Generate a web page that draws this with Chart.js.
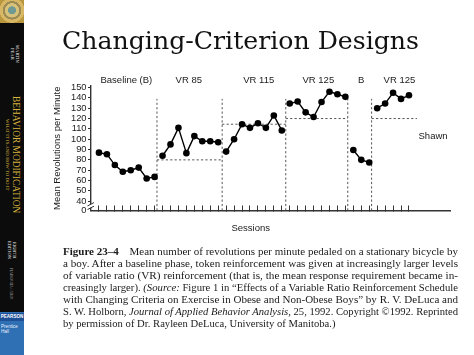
<!DOCTYPE html>
<html><head><meta charset="utf-8">
<script src="https://cdn.jsdelivr.net/npm/chart.js@4/dist/chart.umd.min.js"></script>
<style>
html,body{margin:0;padding:0;background:#fff;width:474px;height:355px;overflow:hidden;position:relative;font-family:"Liberation Sans",Arial,sans-serif}
#c{position:absolute;left:0;top:0}
.spine{position:absolute;left:0;top:0;width:24px;height:355px;background:#0c0c0c;overflow:hidden}
.emb{position:absolute;left:0;top:0;width:24px;height:23px;background:radial-gradient(circle at 50% 45%,#6f9a94 0 22%,#d8c27a 24% 40%,#9c8a55 42% 52%,#d9b865 54% 70%,#b8973f 72%)}
.vt{position:absolute;writing-mode:vertical-rl;font-family:"Liberation Serif",serif;white-space:nowrap;text-align:center}
.logo{position:absolute;left:0;top:312px;width:24px;height:43px;background:#2f6fb3}
.logo .p{position:absolute;left:0;top:1px;width:24px;height:8px;background:#1f4f94;color:#fff;font:bold 4.6px "Liberation Sans",sans-serif;text-align:center;line-height:8px}
.logo .h{position:absolute;left:1px;top:12px;width:22px;color:#e8f0ff;font:4.6px "Liberation Sans",sans-serif;line-height:5px}
#title{position:absolute;left:62px;top:28px;font-family:"DejaVu Serif",serif;font-size:25px;line-height:25px;color:#111;white-space:nowrap;transform-origin:0 0}
#cap{position:absolute;left:63px;top:244.5px;font-family:"Liberation Serif",serif;font-size:11.2px;line-height:12px;color:#1a1a1a}
#cap div{white-space:nowrap;height:12px}
#cap span.l{display:inline-block;transform-origin:0 50%}
</style></head><body>
<canvas id="c" width="474" height="355"></canvas>
<div class="spine">
  <div class="emb"></div>
  <div class="vt" style="left:10px;top:40px;height:27px;font-size:4.6px;line-height:5px;color:#e6e6e6">MARTIN<br>PEAR</div>
  <div class="vt" style="left:4px;top:85px;height:140px;color:#d9b43c">
    <div style="font-size:9.4px;line-height:11px">BEHAVIOR MODIFICATION</div>
    <div style="font-size:4.9px;line-height:6px">WHAT IT IS AND HOW TO DO IT</div>
  </div>
  <div class="vt" style="left:7px;top:238px;height:24px;font-size:4.4px;line-height:5px;color:#eee">EIGHTH<br>EDITION</div>
  <div class="vt" style="left:9px;top:266px;height:36px;font-size:3px;line-height:4px;color:#999">PEARSON EDUCATION</div>
  <div class="logo"><div class="p">PEARSON</div><div class="h">Prentice<br>Hall</div></div>
</div>
<div id="title">Changing-Criterion Designs</div>
<div id="cap">
  <div><span class="l"><b style="margin-right:11px">Figure 23–4</b>Mean number of revolutions per minute pedaled on a stationary bicycle by</span></div>
  <div><span class="l">a boy. After a baseline phase, token reinforcement was given at increasingly larger levels</span></div>
  <div><span class="l">of variable ratio (VR) reinforcement (that is, the mean response requirement became in-</span></div>
  <div><span class="l">creasingly larger). <i>(Source:</i> Figure 1 in “Effects of a Variable Ratio Reinforcement Schedule</span></div>
  <div><span class="l">with Changing Criteria on Exercise in Obese and Non-Obese Boys” by R. V. DeLuca and</span></div>
  <div><span class="l">S. W. Holborn, <i>Journal of Applied Behavior Analysis,</i> 25, 1992. Copyright ©1992. Reprinted</span></div>
  <div><span class="l" data-last="1">by permission of Dr. Rayleen DeLuca, University of Manitoba.)</span></div>
</div>
<script>
// ---- data ----
const phaseNames = ["Baseline (B)", "VR 85", "VR 115", "VR 125", "B", "VR 125"];
const baseline1 = [87, 85.5, 75, 68.5, 70, 72.5, 62, 63.5];
const vr85      = [84, 95, 111, 86.5, 103, 98, 98, 97];
const vr115     = [88, 100, 114.5, 111, 115.5, 111, 123, 108.5];
const vr125a    = [134.5, 136.5, 126, 121.5, 136, 146, 143.5, 141];
const baseline2 = [89.5, 80, 77.5];
const vr125b    = [130, 134.5, 145, 139, 142.5];
const criterion = [null, 80, 114.5, 120, null, 120];
const phaseBreaks = [8.3, 16.5, 24.5, 32.3, 35.3];
const phaseLineTops = [139, 139, 139, 140, 139];
const lastCriterionEnd = 41;
const phaseLabelAt = [4.45, 12.3, 21.1, 28.6, 34, 38.8];
const yTicks = [40, 50, 60, 70, 80, 90, 100, 110, 120, 130, 140, 150];
const yBreakValue = 31;   // axis bottom, labelled "0" (broken axis)
const subjectName = "Shawn";
const xTitle = "Sessions";
const yTitle = "Mean Revolutions per Minute";

// ---- build datasets ----
const phases = [baseline1, vr85, vr115, vr125a, baseline2, vr125b];
const datasets = [];
let s = 1;
const sessionNums = [];
phases.forEach(arr => {
  const pts = arr.map(v => { const p = {x: s, y: v}; sessionNums.push(s); s++; return p; });
  datasets.push({data: pts, borderColor: '#000', backgroundColor: '#000', borderWidth: 1.4,
    pointRadius: 3.3, pointBackgroundColor: '#000', pointBorderWidth: 0, tension: 0, order: 0});
});
const dashStyle = {borderColor: '#555', borderWidth: 1, borderDash: [2.2, 2.2], pointRadius: 0, tension: 0, order: 1, fill: false};
phaseBreaks.forEach((b, i) => {
  datasets.push(Object.assign({data: [{x: b, y: yBreakValue}, {x: b, y: phaseLineTops[i]}]}, dashStyle));
});
criterion.forEach((c, i) => {
  if (c === null) return;
  const x0 = phaseBreaks[i - 1];
  const x1 = i < phaseBreaks.length ? phaseBreaks[i] : lastCriterionEnd;
  datasets.push(Object.assign({data: [{x: x0, y: c}, {x: x1, y: c}]}, dashStyle));
});

const FONT = '"Liberation Sans", Arial, sans-serif';
const textPlugin = {
  id: 'texts',
  afterDraw(chart) {
    const {ctx, scales: {x, y}, chartArea} = chart;
    ctx.save();
    ctx.fillStyle = '#1a1a1a';
    ctx.font = '9.5px ' + FONT;
    ctx.textAlign = 'center';
    ctx.textBaseline = 'middle';
    phaseNames.forEach((n, i) => ctx.fillText(n, x.getPixelForValue(phaseLabelAt[i]), chartArea.top - 6));
    ctx.fillText(xTitle, x.getPixelForValue(20.1), chartArea.bottom + 17.5);
    ctx.textAlign = 'left';
    ctx.fillText(subjectName, x.getPixelForValue(41.2), y.getPixelForValue(103));
    // axis break mark
    const L = chartArea.left, yb = y.getPixelForValue(35.2);
    ctx.fillStyle = '#fff';
    ctx.fillRect(L - 1.2, yb - 1.8, 2.6, 3.4);
    ctx.strokeStyle = '#333';
    ctx.lineWidth = 1;
    ctx.beginPath();
    ctx.moveTo(L - 3.5, yb - 0.2); ctx.lineTo(L + 3, yb - 3.6);
    ctx.moveTo(L - 3.5, yb + 3.4); ctx.lineTo(L + 3, yb + 0);
    ctx.stroke();
    ctx.restore();
  }
};

new Chart(document.getElementById('c'), {
  type: 'line',
  data: {datasets},
  plugins: [textPlugin],
  options: {
    responsive: false, animation: false, devicePixelRatio: 1,
    layout: {padding: {left: 48, top: 86, right: 23.3, bottom: 116.5}},
    plugins: {legend: {display: false}, tooltip: {enabled: false}},
    scales: {
      x: {
        type: 'linear', min: 0, max: 45.25,
        afterBuildTicks: sc => { sc.ticks = sessionNums.map(v => ({value: v})); },
        afterFit: sc => { sc.height = 28; sc.paddingLeft = 0; sc.paddingRight = 0; },
        ticks: {display: false},
        grid: {drawOnChartArea: false, drawTicks: true, tickLength: -5, color: '#333', lineWidth: 1},
        border: {display: true, color: '#333', width: 1.6}
      },
      y: {
        type: 'linear', min: yBreakValue, max: 151.5,
        afterBuildTicks: sc => { sc.ticks = [{value: yBreakValue}].concat(yTicks.map(v => ({value: v}))); },
        afterFit: sc => { sc.width = 43; sc.paddingTop = 0; sc.paddingBottom = 0; },
        ticks: {autoSkip: false, padding: 1.5, color: '#1a1a1a', font: {family: FONT, size: 9.3},
          callback: v => v === yBreakValue ? '0' : String(v)},
        grid: {drawOnChartArea: false, tickLength: 3, lineWidth: 1,
          color: c => (c.tick && c.tick.value === yBreakValue) ? 'rgba(0,0,0,0)' : '#333'},
        border: {color: '#333', width: 1.4},
        title: {display: true, text: yTitle, color: '#1a1a1a', font: {family: FONT, size: 9.5}, padding: {top: 4, bottom: 4}}
      }
    }
  }
});

// fit title and caption lines to the reference widths
(function () {
  const t = document.getElementById('title');
  const tw = t.getBoundingClientRect().width;
  t.style.transform = 'scaleX(' + (357 / tw) + ')';
  document.querySelectorAll('#cap span.l').forEach(sp => {
    const w = sp.getBoundingClientRect().width;
    const target = sp.dataset.last ? Math.min(w * 0.95, 286) : 395;
    sp.style.transform = 'scaleX(' + (target / w) + ')';
  });
})();
</script>
</body></html>
